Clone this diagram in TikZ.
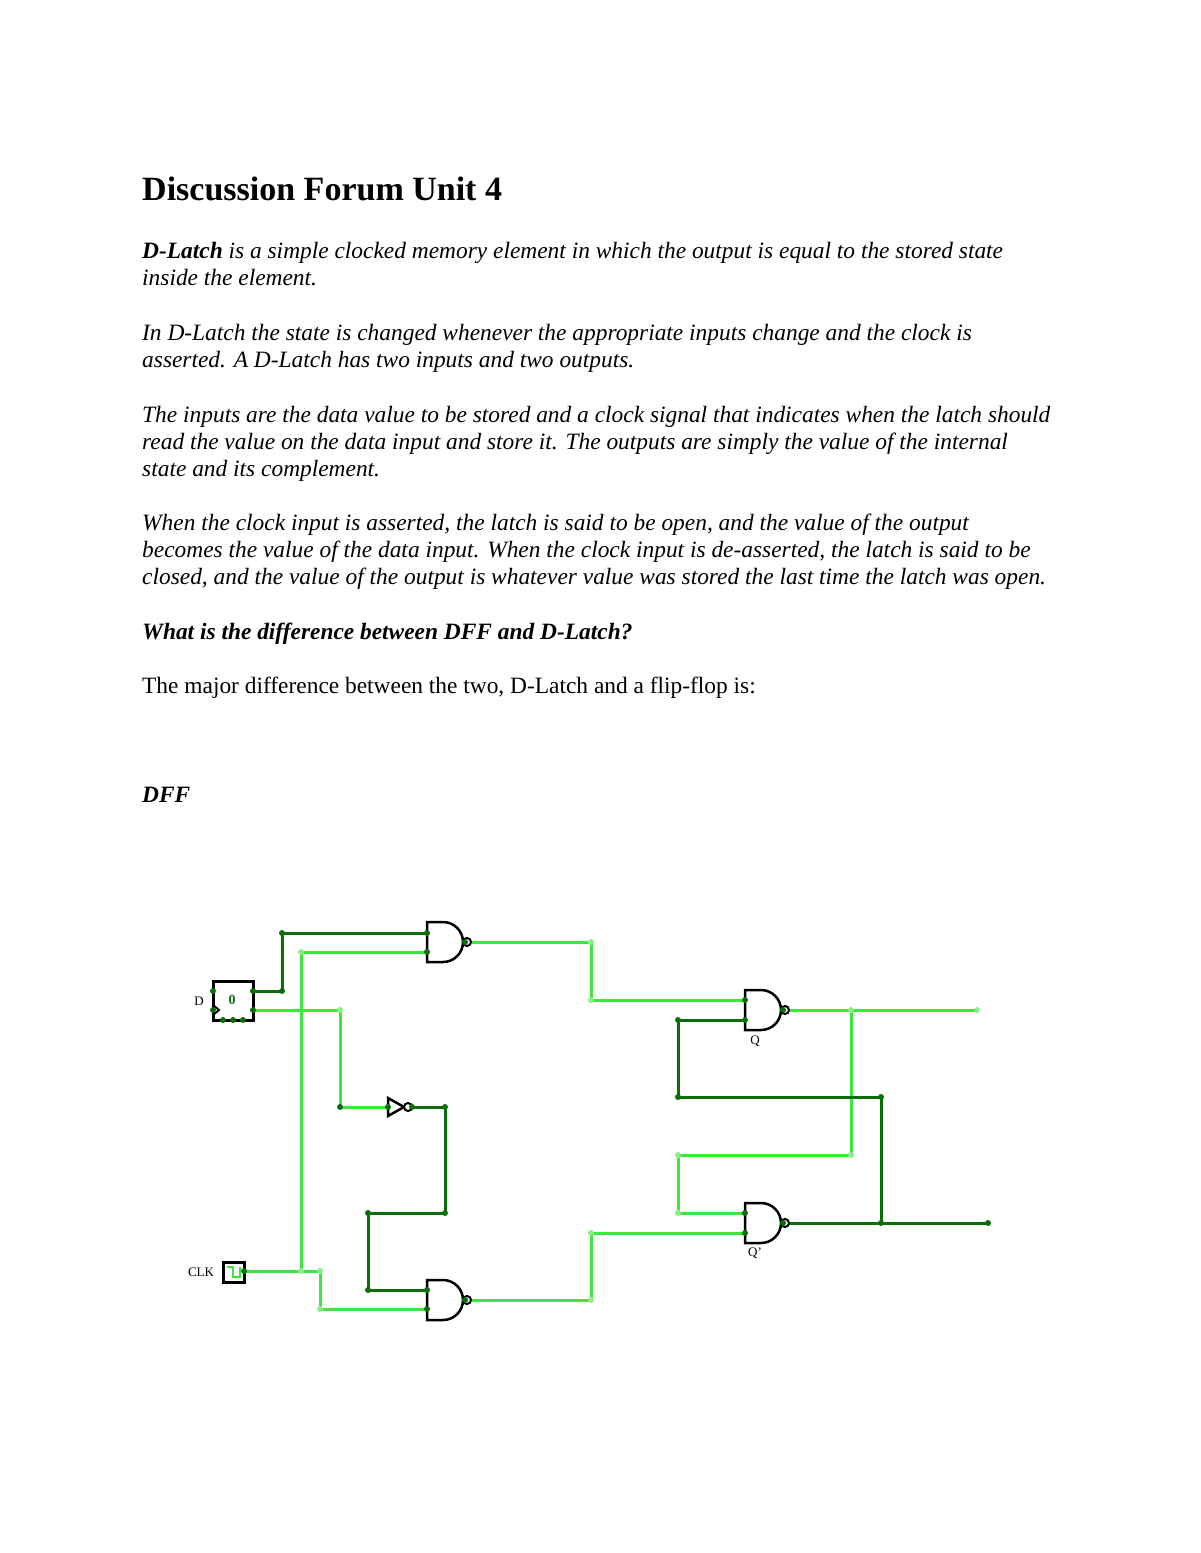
\documentclass[tikz,border=0pt]{standalone}
\usepackage{fontspec}
\setmainfont{Liberation Serif}
\begin{document}
\begin{tikzpicture}[x=1pt,y=-1pt,
  lt/.style={draw=lg,line width=3pt},
  dk/.style={draw=dg,line width=3pt},
  gate/.style={draw=black,line width=2.5pt,fill=white},
  body/.style={anchor=base west,inner sep=0,font=\fontsize{23.4}{27}\selectfont\itshape}]
\definecolor{lg}{HTML}{3CE83C}
\definecolor{dg}{HTML}{0B6E0B}
\useasboundingbox (0,0) rectangle (1200,1553);
\node[anchor=base west,inner sep=0,font=\fontsize{34}{38}\selectfont\bfseries] (title) at (142,200) {Discussion Forum Unit 4};
\node[body] (l1) at (142,258) {\textbf{D-Latch} is a simple clocked memory element in which the output is equal to the stored state};
\node[body] (l2) at (142,285) {inside the element.};
\node[body] (l3) at (142,340) {In D-Latch the state is changed whenever the appropriate inputs change and the clock is};
\node[body] (l4) at (142,367) {asserted. A D-Latch has two inputs and two outputs.};
\node[body] (l5) at (142,422) {The inputs are the data value to be stored and a clock signal that indicates when the latch should};
\node[body] (l6) at (142,449) {read the value on the data input and store it. The outputs are simply the value of the internal};
\node[body] (l7) at (142,476) {state and its complement.};
\node[body] (l8) at (142,530) {When the clock input is asserted, the latch is said to be open, and the value of the output};
\node[body] (l9) at (142,557) {becomes the value of the data input. When the clock input is de-asserted, the latch is said to be};
\node[body] (l10) at (142,584) {closed, and the value of the output is whatever value was stored the last time the latch was open.};
\node[body,font=\fontsize{23.4}{27}\selectfont\bfseries\itshape] (q) at (142,639) {What is the difference between DFF and D-Latch?};
\node[body,font=\fontsize{23.4}{27}\selectfont] (a) at (142,693) {The major difference between the two, D-Latch and a flip-flop is:};
\node[body,font=\fontsize{23.4}{27}\selectfont\bfseries\itshape] (dff) at (142,802) {DFF};
% wires
\draw[dk] (253,991)--(282,991)--(282,933)--(427,933);
\draw[lt] (301,1271)--(301,952)--(427,952);
\draw[lt] (253,1010)--(340,1010)--(340,1107)--(388,1107);
\draw[dk] (412,1107)--(445,1107)--(445,1213)--(368,1213)--(368,1290)--(427,1290);
\draw[lt] (244,1271)--(320,1271)--(320,1309)--(427,1309);
\draw[lt] (465,942)--(591,942)--(591,1000)--(745,1000);
\draw[lt] (465,1300)--(591,1300)--(591,1233)--(745,1233);
\draw[lt] (783,1010)--(977,1010);
\draw[lt] (851,1010)--(851,1155)--(678,1155)--(678,1213)--(745,1213);
\draw[dk] (745,1020)--(678,1020)--(678,1097)--(881,1097)--(881,1223);
\draw[dk] (783,1223)--(988,1223);
% gates
\foreach \n/\x/\y in {g1/427/942,g2/427/1300,gq/745/1010,gqb/745/1223}{
  \draw[gate] (\x,\y-20)--(\x+16,\y-20) arc[start angle=-90,end angle=90,radius=20]--(\x,\y+20)--cycle;
  \draw[gate,line width=2pt] (\x+40,\y) circle (4);
  \coordinate (\n) at (\x,\y);
}
\draw[gate] (388,1098)--(404,1107)--(388,1116)--cycle;
\draw[gate,line width=2pt] (408,1107) circle (4);
% D box
\draw[line width=3pt] (213,981) rectangle (253,1020);
\draw[line width=2pt] (213,1005)--(219,1010)--(213,1015);
\node[text=dg,font=\fontsize{14}{14}\selectfont\bfseries] (dz) at (232,1000) {0};
\node[font=\fontsize{13}{13}\selectfont] (dl) at (199,1001) {D};
\foreach \p in {(213,991),(213,1010),(223,1020),(233,1020),(243,1020)} \fill[dg] \p circle (3);
% CLK
\draw[line width=3pt] (223,1262) rectangle (244,1282);
\draw[draw=lg,line width=2pt] (227,1267)--(233,1267)--(233,1277)--(240,1277)--(240,1267);
\node[font=\fontsize{13}{13}\selectfont] (cl) at (201,1272) {CLK};
\node[font=\fontsize{13}{13}\selectfont] (ql) at (755,1041) {Q};
\node[font=\fontsize{13}{13}\selectfont] (qbl) at (755,1253) {Q'};
% dots
\foreach \p in {(253,991),(282,991),(282,933),(427,933),(427,1290),(368,1290),(368,1213),(445,1213),(445,1107),(412,1107),(745,1020),(678,1020),(678,1097),(881,1097),(881,1223),(988,1223),(783,1223),(253,1010),(244,1271),(427,952),(340,1107),(388,1107),(427,1309),(745,1000),(745,1213),(745,1233),(465,942),(465,1300),(783,1010)} \fill[dg] \p circle (3);
\foreach \p in {(301,952),(340,1010),(301,1271),(320,1271),(320,1309),(591,942),(591,1000),(591,1300),(591,1233),(851,1010),(977,1010),(851,1155),(678,1155),(678,1213)} \fill[lg!60] \p circle (3);
\end{tikzpicture}
\end{document}
